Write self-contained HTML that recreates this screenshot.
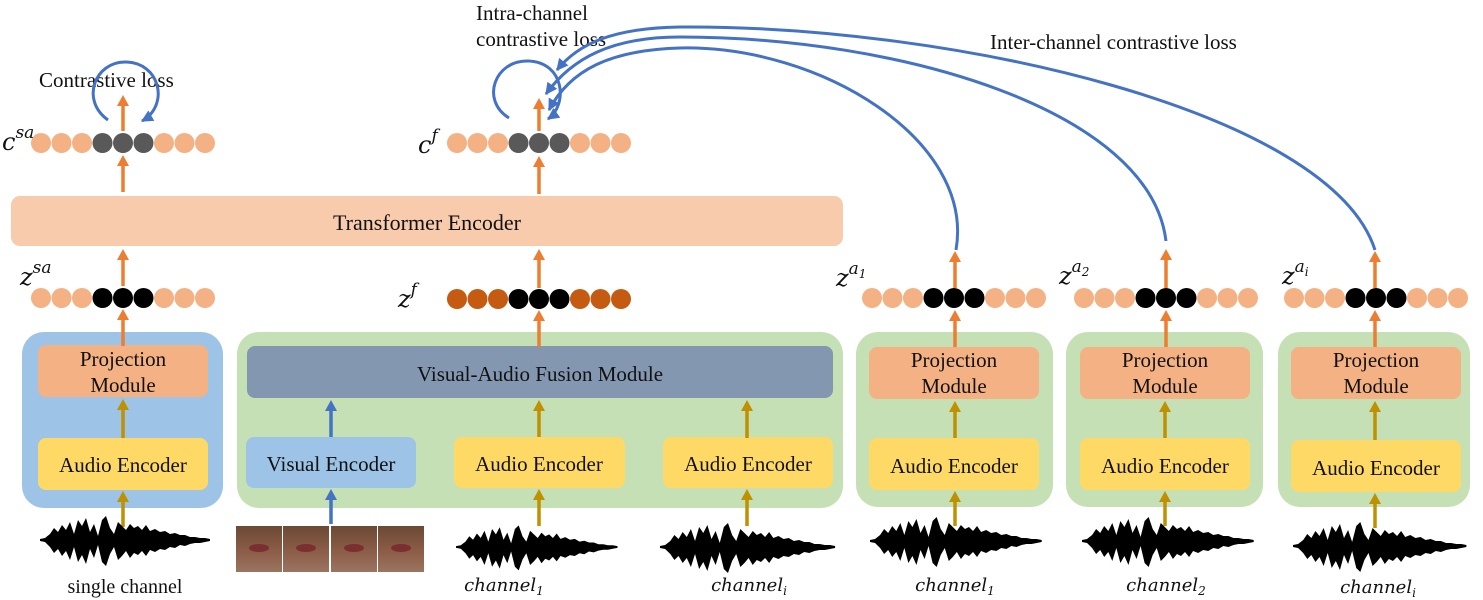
<!DOCTYPE html>
<html><head><meta charset="utf-8"><style>
html,body{margin:0;padding:0;background:#fff;}
svg{display:block;}
text{font-family:"Liberation Serif",serif;fill:#111;}
.m{font-family:"DejaVu Serif","Liberation Serif",serif;font-style:italic;}
</style></head><body>
<svg width="1483" height="600" viewBox="0 0 1483 600" xmlns="http://www.w3.org/2000/svg">
<defs>
<path id="wv" fill="#000" d="M0,-1 L5,-2 10,-6 14,-12 18,-8 22,-15 26,-10 30,-18 34,-6 38,-20 42,-14 46,-22 50,-8 54,-16 58,-4 62,-20 66,-24 70,-12 74,-6 78,-18 82,-14 86,-10 90,-16 94,-12 98,-14 102,-10 106,-15 110,-9 115,-11 120,-8 125,-9 130,-6 135,-7 140,-5 145,-5 150,-3 155,-3 160,-2 165,-2 170,-1 170,1 165,2 160,3 155,3 150,4 145,6 140,5 135,8 130,7 125,10 120,9 115,12 110,10 106,16 102,11 98,15 94,13 90,18 86,11 82,16 78,20 74,7 70,14 66,26 62,22 58,5 54,18 50,9 46,24 42,15 38,22 34,7 30,20 26,11 22,16 18,9 14,13 10,7 5,2 0,1 Z"/>
<linearGradient id="fc" x1="0" y1="0" x2="0" y2="1"><stop offset="0" stop-color="#6b4a35"/><stop offset="0.5" stop-color="#8a5a45"/><stop offset="1" stop-color="#9a7560"/></linearGradient>
<marker id="ah" viewBox="0 0 10 10" refX="9" refY="5" markerWidth="4" markerHeight="4" orient="auto" markerUnits="strokeWidth"><path d="M0,0 L10,5 L0,10 Z" fill="#4472c4"/></marker>
</defs>

<!-- Transformer -->
<rect x="11" y="196" width="832" height="50" rx="9" fill="#f8cbad"/>
<text x="427" y="230" font-size="22" text-anchor="middle">Transformer Encoder</text>

<!-- Left blue box -->
<rect x="22" y="332" width="201" height="176" rx="22" fill="#9dc3e6"/>
<rect x="38" y="345" width="170" height="52" rx="8" fill="#f4b183"/>
<text x="123" y="366" font-size="21" text-anchor="middle">Projection</text>
<text x="123" y="392" font-size="21" text-anchor="middle">Module</text>
<rect x="38" y="438" width="170" height="52" rx="8" fill="#ffd966"/>
<text x="123" y="472" font-size="21" text-anchor="middle">Audio Encoder</text>

<!-- Green fusion box -->
<rect x="237" y="332" width="606" height="176" rx="22" fill="#c5e0b4"/>
<rect x="247" y="346" width="586" height="52" rx="8" fill="#8497b0"/>
<text x="540" y="381" font-size="21" text-anchor="middle">Visual-Audio Fusion Module</text>
<rect x="246" y="437" width="170" height="51" rx="8" fill="#9dc3e6"/>
<text x="331" y="471" font-size="21" text-anchor="middle">Visual Encoder</text>
<rect x="454" y="437" width="171" height="51" rx="8" fill="#ffd966"/>
<text x="539" y="471" font-size="21" text-anchor="middle">Audio Encoder</text>
<rect x="663" y="437" width="170" height="51" rx="8" fill="#ffd966"/>
<text x="748" y="471" font-size="21" text-anchor="middle">Audio Encoder</text>

<!-- Right boxes -->
<rect x="856" y="332" width="197" height="175" rx="22" fill="#c5e0b4"/>
<rect x="869" y="347" width="170" height="52" rx="8" fill="#f4b183"/>
<text x="954" y="367" font-size="21" text-anchor="middle">Projection</text>
<text x="954" y="393" font-size="21" text-anchor="middle">Module</text>
<rect x="869" y="438" width="170" height="52" rx="8" fill="#ffd966"/>
<text x="954" y="473" font-size="21" text-anchor="middle">Audio Encoder</text>

<rect x="1066" y="332" width="197" height="175" rx="22" fill="#c5e0b4"/>
<rect x="1080" y="347" width="170" height="52" rx="8" fill="#f4b183"/>
<text x="1165" y="367" font-size="21" text-anchor="middle">Projection</text>
<text x="1165" y="393" font-size="21" text-anchor="middle">Module</text>
<rect x="1080" y="438" width="170" height="52" rx="8" fill="#ffd966"/>
<text x="1165" y="473" font-size="21" text-anchor="middle">Audio Encoder</text>

<rect x="1278" y="332" width="192" height="175" rx="22" fill="#c5e0b4"/>
<rect x="1291" y="347" width="170" height="52" rx="8" fill="#f4b183"/>
<text x="1376" y="367" font-size="21" text-anchor="middle">Projection</text>
<text x="1376" y="393" font-size="21" text-anchor="middle">Module</text>
<rect x="1291" y="440" width="170" height="52" rx="8" fill="#ffd966"/>
<text x="1376" y="475" font-size="21" text-anchor="middle">Audio Encoder</text>

<!-- Dot rows -->
<g>
<circle cx="41" cy="143" r="10" fill="#f4b183"/><circle cx="61.5" cy="143" r="10" fill="#f4b183"/><circle cx="82" cy="143" r="10" fill="#f4b183"/>
<circle cx="102.5" cy="143" r="10" fill="#595959"/><circle cx="123" cy="143" r="10" fill="#595959"/><circle cx="143.5" cy="143" r="10" fill="#595959"/>
<circle cx="164" cy="143" r="10" fill="#f4b183"/><circle cx="184.5" cy="143" r="10" fill="#f4b183"/><circle cx="205" cy="143" r="10" fill="#f4b183"/>
<circle cx="41" cy="298" r="10" fill="#f4b183"/><circle cx="61.5" cy="298" r="10" fill="#f4b183"/><circle cx="82" cy="298" r="10" fill="#f4b183"/>
<circle cx="102.5" cy="298" r="10" fill="#000"/><circle cx="123" cy="298" r="10" fill="#000"/><circle cx="143.5" cy="298" r="10" fill="#000"/>
<circle cx="164" cy="298" r="10" fill="#f4b183"/><circle cx="184.5" cy="298" r="10" fill="#f4b183"/><circle cx="205" cy="298" r="10" fill="#f4b183"/>
<circle cx="457" cy="143" r="10" fill="#f4b183"/><circle cx="477.5" cy="143" r="10" fill="#f4b183"/><circle cx="498" cy="143" r="10" fill="#f4b183"/>
<circle cx="518.5" cy="143" r="10" fill="#595959"/><circle cx="539" cy="143" r="10" fill="#595959"/><circle cx="559.5" cy="143" r="10" fill="#595959"/>
<circle cx="580" cy="143" r="10" fill="#f4b183"/><circle cx="600.5" cy="143" r="10" fill="#f4b183"/><circle cx="621" cy="143" r="10" fill="#f4b183"/>
<circle cx="457" cy="299" r="10" fill="#c55a11"/><circle cx="477.5" cy="299" r="10" fill="#c55a11"/><circle cx="498" cy="299" r="10" fill="#c55a11"/>
<circle cx="518.5" cy="299" r="10" fill="#000"/><circle cx="539" cy="299" r="10" fill="#000"/><circle cx="559.5" cy="299" r="10" fill="#000"/>
<circle cx="580" cy="299" r="10" fill="#c55a11"/><circle cx="600.5" cy="299" r="10" fill="#c55a11"/><circle cx="621" cy="299" r="10" fill="#c55a11"/>
<circle cx="872" cy="298" r="10" fill="#f4b183"/><circle cx="892.5" cy="298" r="10" fill="#f4b183"/><circle cx="913" cy="298" r="10" fill="#f4b183"/>
<circle cx="933.5" cy="298" r="10" fill="#000"/><circle cx="954" cy="298" r="10" fill="#000"/><circle cx="974.5" cy="298" r="10" fill="#000"/>
<circle cx="995" cy="298" r="10" fill="#f4b183"/><circle cx="1015.5" cy="298" r="10" fill="#f4b183"/><circle cx="1036" cy="298" r="10" fill="#f4b183"/>
<circle cx="1084" cy="298" r="10" fill="#f4b183"/><circle cx="1104.5" cy="298" r="10" fill="#f4b183"/><circle cx="1125" cy="298" r="10" fill="#f4b183"/>
<circle cx="1145.5" cy="298" r="10" fill="#000"/><circle cx="1166" cy="298" r="10" fill="#000"/><circle cx="1186.5" cy="298" r="10" fill="#000"/>
<circle cx="1207" cy="298" r="10" fill="#f4b183"/><circle cx="1227.5" cy="298" r="10" fill="#f4b183"/><circle cx="1248" cy="298" r="10" fill="#f4b183"/>
<circle cx="1294" cy="298" r="10" fill="#f4b183"/><circle cx="1314.5" cy="298" r="10" fill="#f4b183"/><circle cx="1335" cy="298" r="10" fill="#f4b183"/>
<circle cx="1355.5" cy="298" r="10" fill="#000"/><circle cx="1376" cy="298" r="10" fill="#000"/><circle cx="1396.5" cy="298" r="10" fill="#000"/>
<circle cx="1417" cy="298" r="10" fill="#f4b183"/><circle cx="1437.5" cy="298" r="10" fill="#f4b183"/><circle cx="1458" cy="298" r="10" fill="#f4b183"/>
</g>

<!-- Math labels -->
<text class="m" x="2" y="150" font-size="24">c<tspan font-size="17" dy="-12">sa</tspan></text>
<text class="m" x="418" y="153" font-size="24">c<tspan font-size="17" dy="-12">f</tspan></text>
<text class="m" x="20" y="285" font-size="24">z<tspan font-size="17" dy="-12">sa</tspan></text>
<text class="m" x="398" y="307" font-size="24">z<tspan font-size="17" dy="-12">f</tspan></text>
<text class="m" x="836" y="286" font-size="24">z<tspan font-size="17" dy="-12">a</tspan><tspan font-size="12" dy="4">1</tspan></text>
<text class="m" x="1059" y="284" font-size="24">z<tspan font-size="17" dy="-12">a</tspan><tspan font-size="12" dy="4">2</tspan></text>
<text class="m" x="1282" y="284" font-size="24">z<tspan font-size="17" dy="-12">a</tspan><tspan font-size="12" dy="4">i</tspan></text>

<!-- Top texts -->
<text x="39" y="87" font-size="21">Contrastive loss</text>
<text x="476" y="20" font-size="21">Intra-channel</text>
<text x="476" y="46" font-size="21">contrastive loss</text>
<text x="990" y="49" font-size="21">Inter-channel contrastive loss</text>

<!-- Loops & curves -->
<g fill="none" stroke="#4472c4" stroke-width="3" marker-end="url(#ah)">
<path d="M108,120 C80,100 95,62 125,62 C160,62 170,105 142,121"/>
<path d="M509,118 C480,100 495,60 528,61 C565,62 568,105 548,119"/>
<path d="M956,250 C975,140 820,45 680,48 C610,50 570,70 549,110"/>
<path d="M1166,241 C1150,110 900,37 680,37 C612,37 572,58 546,94"/>
<path d="M1375,250 C1330,110 950,25 680,27 C612,28 578,44 557,70"/>
</g>

<!-- Arrows -->
<g stroke-width="3.5">
<g stroke="#ed7d31" fill="#ed7d31">
<line x1="123" y1="192" x2="123" y2="164"/><polygon stroke="none" points="117,166 129,166 123,155"/>
<line x1="123" y1="131" x2="123" y2="104"/><polygon stroke="none" points="117,106 129,106 123,95"/>
<line x1="123" y1="286" x2="123" y2="258"/><polygon stroke="none" points="117,260 129,260 123,249"/>
<line x1="123" y1="346" x2="123" y2="318"/><polygon stroke="none" points="117,320 129,320 123,309"/>
<line x1="539" y1="194" x2="539" y2="165"/><polygon stroke="none" points="533,167 545,167 539,156"/>
<line x1="539" y1="131" x2="539" y2="107"/><polygon stroke="none" points="533,109 545,109 539,98"/>
<line x1="539" y1="288" x2="539" y2="258"/><polygon stroke="none" points="533,260 545,260 539,249"/>
<line x1="539" y1="347" x2="539" y2="319"/><polygon stroke="none" points="533,321 545,321 539,310"/>
<line x1="955" y1="288" x2="955" y2="260"/><polygon stroke="none" points="949,262 961,262 955,251"/>
<line x1="955" y1="347" x2="955" y2="319"/><polygon stroke="none" points="949,321 961,321 955,310"/>
<line x1="1166" y1="288" x2="1166" y2="258"/><polygon stroke="none" points="1160,260 1172,260 1166,249"/>
<line x1="1166" y1="347" x2="1166" y2="319"/><polygon stroke="none" points="1160,321 1172,321 1166,310"/>
<line x1="1375" y1="288" x2="1375" y2="260"/><polygon stroke="none" points="1369,262 1381,262 1375,251"/>
<line x1="1375" y1="347" x2="1375" y2="319"/><polygon stroke="none" points="1369,321 1381,321 1375,310"/>
</g>
<g stroke="#bf9000" fill="#bf9000">
<line x1="123" y1="527" x2="123" y2="500"/><polygon stroke="none" points="117,502 129,502 123,491"/>
<line x1="123" y1="438" x2="123" y2="408"/><polygon stroke="none" points="117,410 129,410 123,399"/>
<line x1="539" y1="526" x2="539" y2="498"/><polygon stroke="none" points="533,500 545,500 539,489"/>
<line x1="539" y1="437" x2="539" y2="409"/><polygon stroke="none" points="533,411 545,411 539,400"/>
<line x1="747" y1="526" x2="747" y2="498"/><polygon stroke="none" points="741,500 753,500 747,489"/>
<line x1="747" y1="438" x2="747" y2="409"/><polygon stroke="none" points="741,411 753,411 747,400"/>
<line x1="955" y1="526" x2="955" y2="500"/><polygon stroke="none" points="949,502 961,502 955,491"/>
<line x1="955" y1="438" x2="955" y2="410"/><polygon stroke="none" points="949,412 961,412 955,401"/>
<line x1="1165" y1="526" x2="1165" y2="500"/><polygon stroke="none" points="1159,502 1171,502 1165,491"/>
<line x1="1165" y1="438" x2="1165" y2="410"/><polygon stroke="none" points="1159,412 1171,412 1165,401"/>
<line x1="1375" y1="528" x2="1375" y2="502"/><polygon stroke="none" points="1369,504 1381,504 1375,493"/>
<line x1="1375" y1="440" x2="1375" y2="410"/><polygon stroke="none" points="1369,412 1381,412 1375,401"/>
</g>
<g stroke="#4472c4" fill="#4472c4">
<line x1="331" y1="524" x2="331" y2="498"/><polygon stroke="none" points="325,500 337,500 331,489"/>
<line x1="331" y1="437" x2="331" y2="409"/><polygon stroke="none" points="325,411 337,411 331,400"/>
</g>
</g>

<!-- Waveforms -->
<use href="#wv" transform="translate(40,540)"/>
<use href="#wv" transform="translate(456,547) scale(0.95,0.9)"/>
<use href="#wv" transform="translate(660,547) scale(1.03,1)"/>
<use href="#wv" transform="translate(870,541) scale(1.01,1)"/>
<use href="#wv" transform="translate(1082,541) scale(1.01,1)"/>
<use href="#wv" transform="translate(1293,546) scale(1.02,1)"/>

<!-- Face frames -->
<g>
<rect x="236" y="526" width="46" height="46" fill="url(#fc)"/>
<rect x="283" y="526" width="46" height="46" fill="url(#fc)"/>
<rect x="331" y="526" width="46" height="46" fill="url(#fc)"/>
<rect x="378" y="526" width="46" height="46" fill="url(#fc)"/>
<ellipse cx="259" cy="548" rx="10" ry="4" fill="#7a3030"/>
<ellipse cx="306" cy="548" rx="10" ry="4" fill="#7a3030"/>
<ellipse cx="354" cy="548" rx="10" ry="4" fill="#7a3030"/>
<ellipse cx="401" cy="548" rx="10" ry="4" fill="#7a3030"/>
</g>

<!-- Bottom labels -->
<text x="125" y="593" font-size="20" text-anchor="middle">single channel</text>
<text class="m" x="504" y="591" font-size="18" text-anchor="middle">channel<tspan font-size="12" dy="4">1</tspan></text>
<text class="m" x="749" y="591" font-size="18" text-anchor="middle">channel<tspan font-size="12" dy="4">i</tspan></text>
<text class="m" x="955" y="591" font-size="18" text-anchor="middle">channel<tspan font-size="12" dy="4">1</tspan></text>
<text class="m" x="1166" y="591" font-size="18" text-anchor="middle">channel<tspan font-size="12" dy="4">2</tspan></text>
<text class="m" x="1378" y="593" font-size="18" text-anchor="middle">channel<tspan font-size="12" dy="4">i</tspan></text>
</svg>
</body></html>
